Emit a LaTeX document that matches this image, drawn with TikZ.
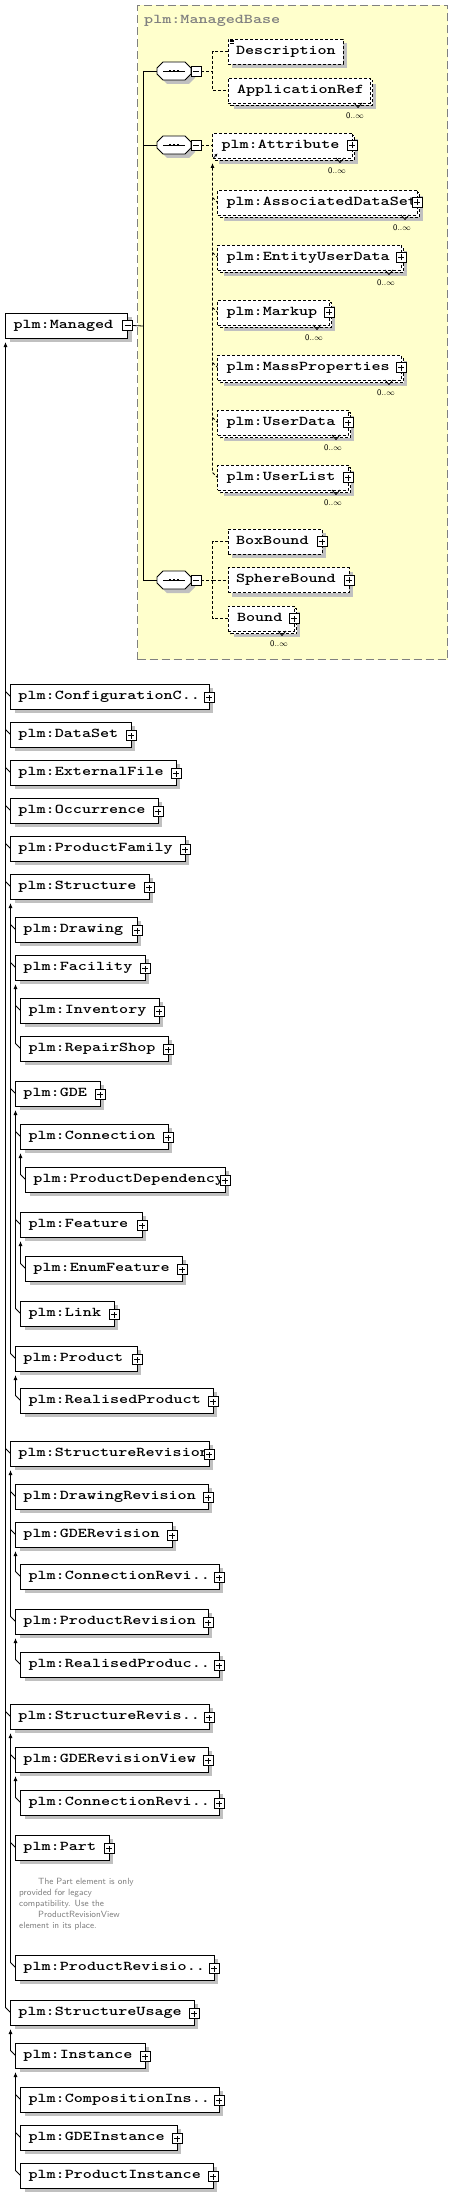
\documentclass[tikz,border=0pt]{standalone}
\usepackage{graphicx}
\usetikzlibrary{arrows.meta,calc}
\definecolor{shcol}{HTML}{C0C0C0}
\definecolor{ylw}{HTML}{FFFFCC}
\definecolor{gry}{HTML}{808080}
\newcommand{\bt}[1]{\scalebox{1.28}[1]{\fontsize{13.5}{14}\selectfont\ttfamily\bfseries #1}}
\tikzset{
  ln/.style={line width=0.8pt},
  box/.style={ln, draw, fill=white, anchor=north west, inner sep=0pt, outer sep=0pt,
    minimum height=25pt, text height=8.5pt, text depth=3pt},
  obox/.style={box, dash pattern=on 3pt off 2pt},
  dsh/.style={ln, dash pattern=on 3pt off 2pt},
  pbox/.style={ln, draw, solid, fill=white, minimum size=10pt, inner sep=0pt, outer sep=0pt,
    path picture={\draw[line width=0.7pt]
      ([xshift=-3pt]path picture bounding box.center) -- ([xshift=3pt]path picture bounding box.center)
      ([yshift=-3pt]path picture bounding box.center) -- ([yshift=3pt]path picture bounding box.center);}},
  mbox/.style={ln, draw, solid, fill=white, minimum size=10pt, inner sep=0pt, outer sep=0pt,
    path picture={\draw[line width=0.7pt]
      ([xshift=-3pt]path picture bounding box.center) -- ([xshift=3pt]path picture bounding box.center);}},
  occ/.style={font=\sffamily\fontsize{8.5}{9}\selectfont, inner sep=0pt},
  uparr/.style={{Latex[length=5pt,width=4pt]}-},
  comp/.style={minimum width=34pt, minimum height=18pt, inner sep=0pt, outer sep=0pt},
}
% solid element with plus box
\newcommand\sel[5]{%
  \fill[shcol] (#2+4,#3+4) rectangle ++(#4,25);
  \node[box] (#1) at (#2,#3) {\makebox[#4pt][l]{\hspace{8pt}\bt{#5}}};
  \node[pbox] (#1p) at ([yshift=-1pt]#1.east) {};
}
% optional single element
\newcommand\oel[6]{%
  \fill[shcol] (#2+4,#3+4) rectangle ++(#4,25);
  \node[obox] (#1) at (#2,#3) {\makebox[#4pt][l]{\hspace{8pt}\bt{#5}}};
  \ifnum#6=1 \node[pbox] (#1p) at (#1.east) {};\fi
}
% optional multiple element
\newcommand\mel[6]{%
  \fill[shcol] (#2+6,#3+6) rectangle ++(#4,25);
  \draw[dsh, fill=white] (#2+2.5,#3+2.5) rectangle ++(#4,25);
  \node[obox] (#1) at (#2,#3) {\makebox[#4pt][l]{\hspace{9pt}\bt{#5}}};
  \ifnum#6=1 \node[pbox] (#1p) at (#1.east) {};\fi
  \draw[ln] ($(#1.south east)+(-16,0)$) -- ++(4,4.5) -- ++(4,-4.5);
  \node[occ] (#1o) at ($(#1.south east)+(-15,13)$) {0..$\infty$};
}
% compositor (sequence / choice icon)
\newcommand\compo[2]{%
  \fill[shcol] (178-17,#2+1) -- (178-11,#2-5) -- (178+11,#2-5) -- (178+17,#2+1)
     -- (178+17,#2+7) -- (178+11,#2+13) -- (178-11,#2+13) -- (178-17,#2+7) -- cycle;
  \node[comp] (#1) at (174,#2) {};
  \draw[ln, fill=white] (174-17,#2-3) -- (174-11,#2-9) -- (174+11,#2-9) -- (174+17,#2-3)
     -- (174+17,#2+3) -- (174+11,#2+9) -- (174-11,#2+9) -- (174-17,#2+3) -- cycle;
  \draw[ln] ([xshift=-11pt]#1.center) -- ([xshift=11pt]#1.center);
  \foreach \d in {-4,0,4} {\fill ([xshift=\d pt]#1.center) +(-1.3,-1.3) rectangle +(1.3,1.3);}
  \node[mbox, anchor=west] (#1m) at (#1.east) {};
}
\newcommand\trunk[2]{\draw[ln, uparr] ($(#1.south west)+(0,4)$) -- ($(#1.south west |- #2.west)+(0,-5)$) -- (#2.west);}
\newcommand\kid[2]{\draw[ln] ($(#1.south west |- #2.west)+(0,-5)$) -- (#2.west);}
\begin{document}
\begin{tikzpicture}[x=1pt,y=-1pt]
\fill[white] (0,0) rectangle (452,2207);
\useasboundingbox (0,0) rectangle (452,2207);
% ManagedBase group
\node[draw=gry, fill=ylw, ln, dash pattern=on 8pt off 4pt, anchor=north west, minimum width=310pt,
  minimum height=654pt, inner sep=0pt, outer sep=0pt] (base) at (137.5,5.5) {};
\node[anchor=west, text=gry, inner sep=0pt] (basetitle) at (144,21) {\bt{plm:ManagedBase}};
% Managed
\fill[shcol] (9.5,317) rectangle ++(122,25);
\node[box] (managed) at (5.5,313) {\makebox[122pt][l]{\hspace{8pt}\bt{plm:Managed}}};
\node[mbox] (managedm) at (managed.east) {};
% compositors
\compo{c1}{71}
\compo{c2}{145}
\compo{c3}{580}
\coordinate (trunk) at (143,326);
\coordinate (dx) at (212.5,0);
\draw[ln] (managedm.east) -- (trunk);
\draw[ln] (c1.west -| trunk) -- (c3.west -| trunk);
\draw[ln] (c1.west -| trunk) -- (c1.west);
\draw[ln] (c2.west -| trunk) -- (c2.west);
\draw[ln] (c3.west -| trunk) -- (c3.west);
% sequence 1
\oel{desc}{228}{39}{115}{Description}{0}
\foreach \k in {1,2.5,4} {\draw[line width=0.5pt] ($(desc.north west)+(1.5,\k)$) -- ++(4,0);}
\mel{appref}{228}{78}{142}{ApplicationRef}{0}
\draw[dsh] (c1m.east) -- (c1m.east -| dx);
\draw[dsh] (desc.west) -- (desc.west -| dx) -- (appref.west -| dx) -- (appref.west);
% sequence 2
\mel{attr}{212.5}{133}{139.5}{plm:Attribute}{1}
\mel{ads}{217.5}{190}{199.5}{plm:AssociatedDataSet}{1}
\mel{eud}{217.5}{245}{183.5}{plm:EntityUserData}{1}
\mel{mk}{217.5}{300}{111.5}{plm:Markup}{1}
\mel{mp}{217.5}{355}{183.5}{plm:MassProperties}{1}
\mel{ud}{217.5}{410}{130.5}{plm:UserData}{1}
\mel{ul}{217.5}{465}{130.5}{plm:UserList}{1}
\draw[dsh] (c2m.east) -- (c2m.east -| attr.west);
\draw[dsh, uparr] ($(attr.south west)+(0,5)$) -- ($(attr.south west |- ul.west)+(0,-5)$) -- (ul.west);
\foreach \m in {ads,eud,mk,mp,ud} {\draw[dsh] ($(attr.south west |- \m.west)+(0,-5)$) -- (\m.west);}
\draw[ln, -{Latex[length=3pt,width=3pt]}] ($(attr.south west)+(1,0)$) -- ++(4,-4.5);
% choice
\oel{bb}{228}{529}{94}{BoxBound}{1}
\oel{sb}{228}{567.5}{121}{SphereBound}{1}
\mel{bd}{228}{606}{66}{Bound}{1}
\draw[dsh] (c3m.east) -- (c3m.east -| dx);
\draw[dsh] (bb.west) -- (bb.west -| dx) -- (bd.west -| dx) -- (bd.west);
\draw[dsh] (sb.west -| dx) -- (sb.west);
% derived types
\sel{cfg}{10.5}{684}{198.5}{plm:ConfigurationC..}
\sel{ds}{10.5}{722}{120.5}{plm:DataSet}
\sel{ef}{10.5}{760}{165.5}{plm:ExternalFile}
\sel{occ}{10.5}{798}{147.5}{plm:Occurrence}
\sel{pf}{10.5}{836}{174.5}{plm:ProductFamily}
\sel{st}{10.5}{874}{138.5}{plm:Structure}
\sel{drw}{15.5}{917}{121.5}{plm:Drawing}
\sel{fac}{15.5}{955}{129.5}{plm:Facility}
\sel{inv}{20.5}{998}{138.5}{plm:Inventory}
\sel{rs}{20.5}{1036}{147.5}{plm:RepairShop}
\sel{gde}{15.5}{1081}{84.5}{plm:GDE}
\sel{con}{20.5}{1124}{147.5}{plm:Connection}
\sel{pd}{25.5}{1167}{199.5}{plm:ProductDependency}
\sel{feat}{20.5}{1212}{121.5}{plm:Feature}
\sel{enf}{25.5}{1256}{156.5}{plm:EnumFeature}
\sel{link}{20.5}{1301}{93.5}{plm:Link}
\sel{prod}{15.5}{1346}{121.5}{plm:Product}
\sel{rp}{20.5}{1388}{192.5}{plm:RealisedProduct}
\sel{sr}{10.5}{1441}{198.5}{plm:StructureRevision}
\sel{dr}{15.5}{1484}{192.5}{plm:DrawingRevision}
\sel{gr}{15.5}{1522}{156.5}{plm:GDERevision}
\sel{cr}{20.5}{1564}{198.5}{plm:ConnectionRevi..}
\sel{prv}{15.5}{1609}{192.5}{plm:ProductRevision}
\sel{rpr}{20.5}{1652}{198.5}{plm:RealisedProduc..}
\sel{srv}{10.5}{1704}{198.5}{plm:StructureRevis..}
\sel{grv}{15.5}{1747}{192.5}{plm:GDERevisionView}
\sel{crv}{20.5}{1790}{198.5}{plm:ConnectionRevi..}
\sel{part}{15.5}{1835}{93.5}{plm:Part}
\node[anchor=north west, inner sep=0pt, align=left, text=gry, font=\sffamily\fontsize{9}{11}\selectfont]
  (note) at (19,1878) {\hspace*{19pt}The Part element is only\\provided for legacy\\compatibility. Use the\\\hspace*{19pt}ProductRevisionView\\element in its place.};
\sel{prvw}{15.5}{1955}{198.5}{plm:ProductRevisio..}
\sel{su}{10.5}{2000}{183.5}{plm:StructureUsage}
\sel{inst}{15.5}{2043}{129.5}{plm:Instance}
\sel{ci}{20.5}{2087}{198.5}{plm:CompositionIns..}
\sel{gi}{20.5}{2125}{156.5}{plm:GDEInstance}
\sel{pi}{20.5}{2163}{192.5}{plm:ProductInstance}
% tree connectors
\trunk{managed}{su}
\foreach \c in {cfg,ds,ef,occ,pf,st,sr,srv} {\kid{managed}{\c}}
\trunk{st}{prod}
\foreach \c in {drw,fac,gde} {\kid{st}{\c}}
\trunk{fac}{rs}
\kid{fac}{inv}
\trunk{gde}{link}
\foreach \c in {con,feat} {\kid{gde}{\c}}
\trunk{con}{pd}
\trunk{feat}{enf}
\trunk{prod}{rp}
\trunk{sr}{prv}
\foreach \c in {dr,gr} {\kid{sr}{\c}}
\trunk{gr}{cr}
\trunk{prv}{rpr}
\trunk{srv}{prvw}
\foreach \c in {grv,part} {\kid{srv}{\c}}
\trunk{grv}{crv}
\trunk{su}{inst}
\trunk{inst}{pi}
\foreach \c in {ci,gi} {\kid{inst}{\c}}
\end{tikzpicture}
\end{document}
